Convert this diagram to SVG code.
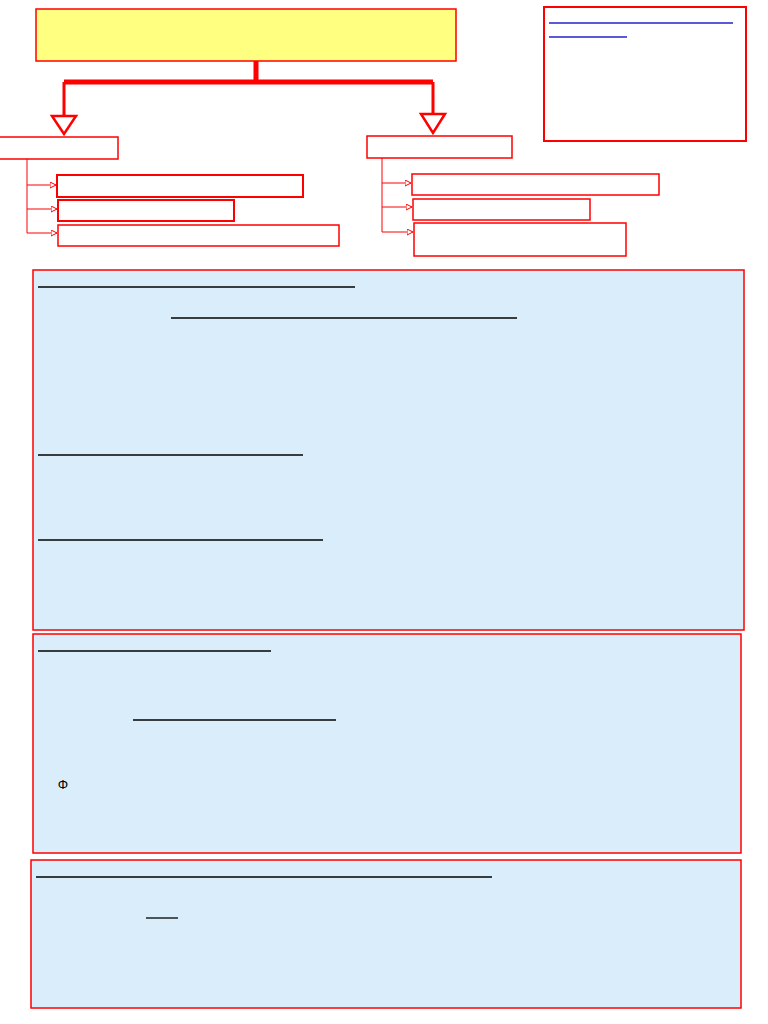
<svg xmlns="http://www.w3.org/2000/svg" width="768" height="1024" viewBox="0 0 768 1024">
<style>
.b{fill:#fff;stroke:#f00;stroke-width:2}
.s{fill:#fff;stroke:#f00;stroke-width:1.5}
.p{fill:#d9eefa;stroke:#f00;stroke-width:1.5}
.u{stroke:#000;stroke-width:1.3}
.c{fill:none;stroke:#f00;stroke-width:1}
.m{fill:none;stroke:#f00;stroke-width:1;marker-end:url(#a)}
</style>
<defs><marker id="a" markerWidth="8" markerHeight="8" refX="6" refY="3" orient="auto" markerUnits="userSpaceOnUse"><path d="M0,0L6,3L0,6Z" fill="#fff" stroke="#f00" stroke-width="1"/></marker></defs>
<g id="title"><rect x="36" y="9" width="420" height="52" fill="#ffff80" stroke="#f00" stroke-width="1.5"/></g>
<g id="legend"><rect class="b" x="544" y="7" width="202" height="134"/><line x1="549" y1="23" x2="733" y2="23" stroke="#22c" stroke-width="1.3"/><line x1="549" y1="37" x2="627" y2="37" stroke="#22c" stroke-width="1.3"/></g>
<g id="left"><rect class="s" x="-2" y="137" width="120" height="22"/></g>
<g id="right"><rect class="s" x="367" y="136" width="145" height="22"/></g>
<g id="l1"><rect class="b" x="57" y="175" width="246" height="22"/></g>
<g id="l2"><rect class="b" x="58" y="200" width="176" height="21"/></g>
<g id="l3"><rect class="s" x="58" y="225" width="281" height="21"/></g>
<g id="r1"><rect class="s" x="412" y="174" width="247" height="21"/></g>
<g id="r2"><rect class="s" x="413" y="199" width="177" height="21"/></g>
<g id="r3"><rect class="s" x="414" y="223" width="212" height="33"/></g>
<g id="connectors">
<path d="M256,61V82M64,82H433" stroke="#f00" stroke-width="5" fill="none"/>
<path d="M64,82V116M433,82V114" stroke="#f00" stroke-width="3" fill="none"/>
<path d="M52,116L76,116L64,134Z M421,114L445,114L433,133Z" fill="#fff" stroke="#f00" stroke-width="2.5"/>
<path class="c" d="M27,159V233"/>
<path class="m" d="M27,185H56"/><path class="m" d="M27,209H57"/><path class="m" d="M27,233H57"/>
<path class="c" d="M382,158V232"/>
<path class="m" d="M382,183H411"/><path class="m" d="M382,207H412"/><path class="m" d="M382,232H413"/>
</g>
<g id="panel1"><rect class="p" x="33" y="270" width="711" height="360"/>
<line class="u" x1="38" y1="287" x2="355" y2="287"/><line class="u" x1="171" y1="318" x2="517" y2="318"/>
<line class="u" x1="38" y1="455" x2="303" y2="455"/><line class="u" x1="38" y1="540" x2="323" y2="540"/></g>
<g id="panel2"><rect class="p" x="33" y="634" width="708" height="219"/>
<line class="u" x1="38" y1="651" x2="271" y2="651"/><line class="u" x1="133" y1="720" x2="336" y2="720"/>
<text x="63" y="789" font-family="Liberation Sans, sans-serif" font-size="13" text-anchor="middle">Φ</text></g>
<g id="panel3"><rect class="p" x="31" y="860" width="710" height="148"/>
<line class="u" x1="36" y1="877" x2="492" y2="877"/><line class="u" x1="146" y1="918" x2="178" y2="918"/></g>
</svg>
